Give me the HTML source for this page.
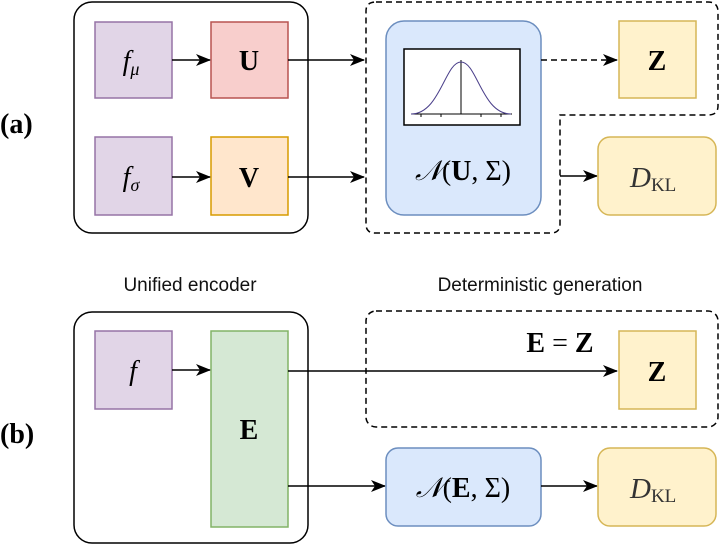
<!DOCTYPE html>
<html><head><meta charset="utf-8"><style>
html,body{margin:0;padding:0;background:#fff;}
svg{display:block;}
.m{font-family:"Liberation Serif",serif;}
.s{font-family:"Liberation Sans",sans-serif;}
</style></head><body>
<svg width="722" height="547" viewBox="0 0 722 547" xmlns="http://www.w3.org/2000/svg">
<defs>
<marker id="ar" markerWidth="15" markerHeight="12" refX="14" refY="6" orient="auto" markerUnits="userSpaceOnUse">
<path d="M0,0 L15,6 L0,12 L4,6 Z" fill="#000"/></marker>
</defs>
<!-- (a) -->
<text x="0" y="133" class="m" font-size="28" font-weight="bold">(a)</text>
<rect x="74" y="2" width="234" height="231" rx="18" fill="none" stroke="#000" stroke-width="1.5"/>
<rect x="95" y="22" width="77" height="76" fill="#e1d5e7" stroke="#9673a6" stroke-width="1.5"/>
<text x="131" y="70" class="m" font-size="28" font-style="italic" text-anchor="middle">f<tspan font-size="18" dy="5">μ</tspan></text>
<rect x="211" y="22" width="77" height="76" fill="#f8cecc" stroke="#b85450" stroke-width="1.5"/>
<text x="249" y="70" class="m" font-size="28" font-weight="bold" text-anchor="middle">U</text>
<rect x="95" y="137" width="77" height="78" fill="#e1d5e7" stroke="#9673a6" stroke-width="1.5"/>
<text x="131" y="186" class="m" font-size="28" font-style="italic" text-anchor="middle">f<tspan font-size="18" dy="5">σ</tspan></text>
<rect x="211" y="137" width="77" height="78" fill="#ffe6cc" stroke="#d79b00" stroke-width="1.5"/>
<text x="249" y="187" class="m" font-size="28" font-weight="bold" text-anchor="middle">V</text>
<line x1="172" y1="60" x2="210" y2="60" stroke="#000" stroke-width="1.5" marker-end="url(#ar)"/>
<line x1="172" y1="177" x2="210" y2="177" stroke="#000" stroke-width="1.5" marker-end="url(#ar)"/>
<line x1="288" y1="60" x2="364" y2="60" stroke="#000" stroke-width="1.5" marker-end="url(#ar)"/>
<line x1="288" y1="177" x2="364" y2="177" stroke="#000" stroke-width="1.5" marker-end="url(#ar)"/>
<path d="M376,2 H708 Q718,2 718,12 V106 Q718,115 708,115 H560 V224 Q560,233 551,233 H375 Q366,233 366,224 V11 Q366,2 376,2 Z" fill="none" stroke="#000" stroke-width="1.5" stroke-dasharray="6,4"/>
<rect x="386" y="21" width="155" height="194" rx="18" fill="#dae8fc" stroke="#6c8ebf" stroke-width="1.5"/>
<rect x="404" y="49" width="116" height="76" fill="#fff" stroke="#000" stroke-width="1.5"/>
<line x1="411" y1="114" x2="512" y2="114" stroke="#000" stroke-width="1"/>
<line x1="461" y1="60" x2="461" y2="114" stroke="#000" stroke-width="1"/>
<path d="M411,114 C440,114 445,62 461,62 C477,62 482,114 511,114" fill="none" stroke="#4a3f8a" stroke-width="1"/>
<g stroke="#000" stroke-width="1"><line x1="421" y1="114" x2="421" y2="117"/><line x1="441" y1="114" x2="441" y2="117"/><line x1="481" y1="114" x2="481" y2="117"/><line x1="501" y1="114" x2="501" y2="117"/></g>
<text x="463" y="180" class="m" font-size="28" text-anchor="middle"><tspan font-style="italic">𝒩</tspan>(<tspan font-weight="bold">U</tspan>, Σ)</text>
<line x1="541" y1="60" x2="617" y2="60" stroke="#000" stroke-width="1.5" stroke-dasharray="6,4" marker-end="url(#ar)"/>
<rect x="619" y="21" width="77" height="77" fill="#fff2cc" stroke="#d6b656" stroke-width="1.5"/>
<text x="657" y="70" class="m" font-size="28" font-weight="bold" text-anchor="middle">Z</text>
<line x1="560" y1="176" x2="597" y2="176" stroke="#000" stroke-width="1.5" marker-end="url(#ar)"/>
<rect x="598" y="137" width="118" height="78" rx="12" fill="#fff2cc" stroke="#d6b656" stroke-width="1.5"/>
<text x="630" y="187" class="m" font-size="29" font-style="italic" fill="#333">D<tspan font-size="19" font-style="normal" dy="4">KL</tspan></text>
<!-- labels -->
<text x="190" y="291" class="s" font-size="19" text-anchor="middle" fill="#111">Unified encoder</text>
<text x="540" y="291" class="s" font-size="19" text-anchor="middle" fill="#111">Deterministic generation</text>
<!-- (b) -->
<text x="0" y="443" class="m" font-size="28" font-weight="bold">(b)</text>
<rect x="74" y="312" width="234" height="231" rx="18" fill="none" stroke="#000" stroke-width="1.5"/>
<rect x="95" y="331" width="77" height="78" fill="#e1d5e7" stroke="#9673a6" stroke-width="1.5"/>
<text x="133" y="380" class="m" font-size="28" font-style="italic" text-anchor="middle">f</text>
<rect x="211" y="331" width="77" height="196" fill="#d5e8d4" stroke="#82b366" stroke-width="1.5"/>
<text x="249" y="439" class="m" font-size="28" font-weight="bold" text-anchor="middle">E</text>
<line x1="172" y1="370" x2="210" y2="370" stroke="#000" stroke-width="1.5" marker-end="url(#ar)"/>
<rect x="366" y="311" width="352" height="116" rx="10" fill="none" stroke="#000" stroke-width="1.5" stroke-dasharray="6,4"/>
<line x1="288" y1="371" x2="617" y2="371" stroke="#000" stroke-width="1.5" marker-end="url(#ar)"/>
<text x="560" y="352" class="m" font-size="28" font-weight="bold" text-anchor="middle">E <tspan font-weight="normal">=</tspan> Z</text>
<rect x="619" y="331" width="77" height="78" fill="#fff2cc" stroke="#d6b656" stroke-width="1.5"/>
<text x="657" y="381" class="m" font-size="28" font-weight="bold" text-anchor="middle">Z</text>
<line x1="288" y1="486" x2="385" y2="486" stroke="#000" stroke-width="1.5" marker-end="url(#ar)"/>
<rect x="386" y="448" width="155" height="78" rx="12" fill="#dae8fc" stroke="#6c8ebf" stroke-width="1.5"/>
<text x="463" y="497" class="m" font-size="28" text-anchor="middle"><tspan font-style="italic">𝒩</tspan>(<tspan font-weight="bold">E</tspan>, Σ)</text>
<line x1="541" y1="486" x2="597" y2="486" stroke="#000" stroke-width="1.5" marker-end="url(#ar)"/>
<rect x="598" y="448" width="118" height="78" rx="12" fill="#fff2cc" stroke="#d6b656" stroke-width="1.5"/>
<text x="630" y="498" class="m" font-size="29" font-style="italic" fill="#333">D<tspan font-size="19" font-style="normal" dy="4">KL</tspan></text>
</svg>
</body></html>
